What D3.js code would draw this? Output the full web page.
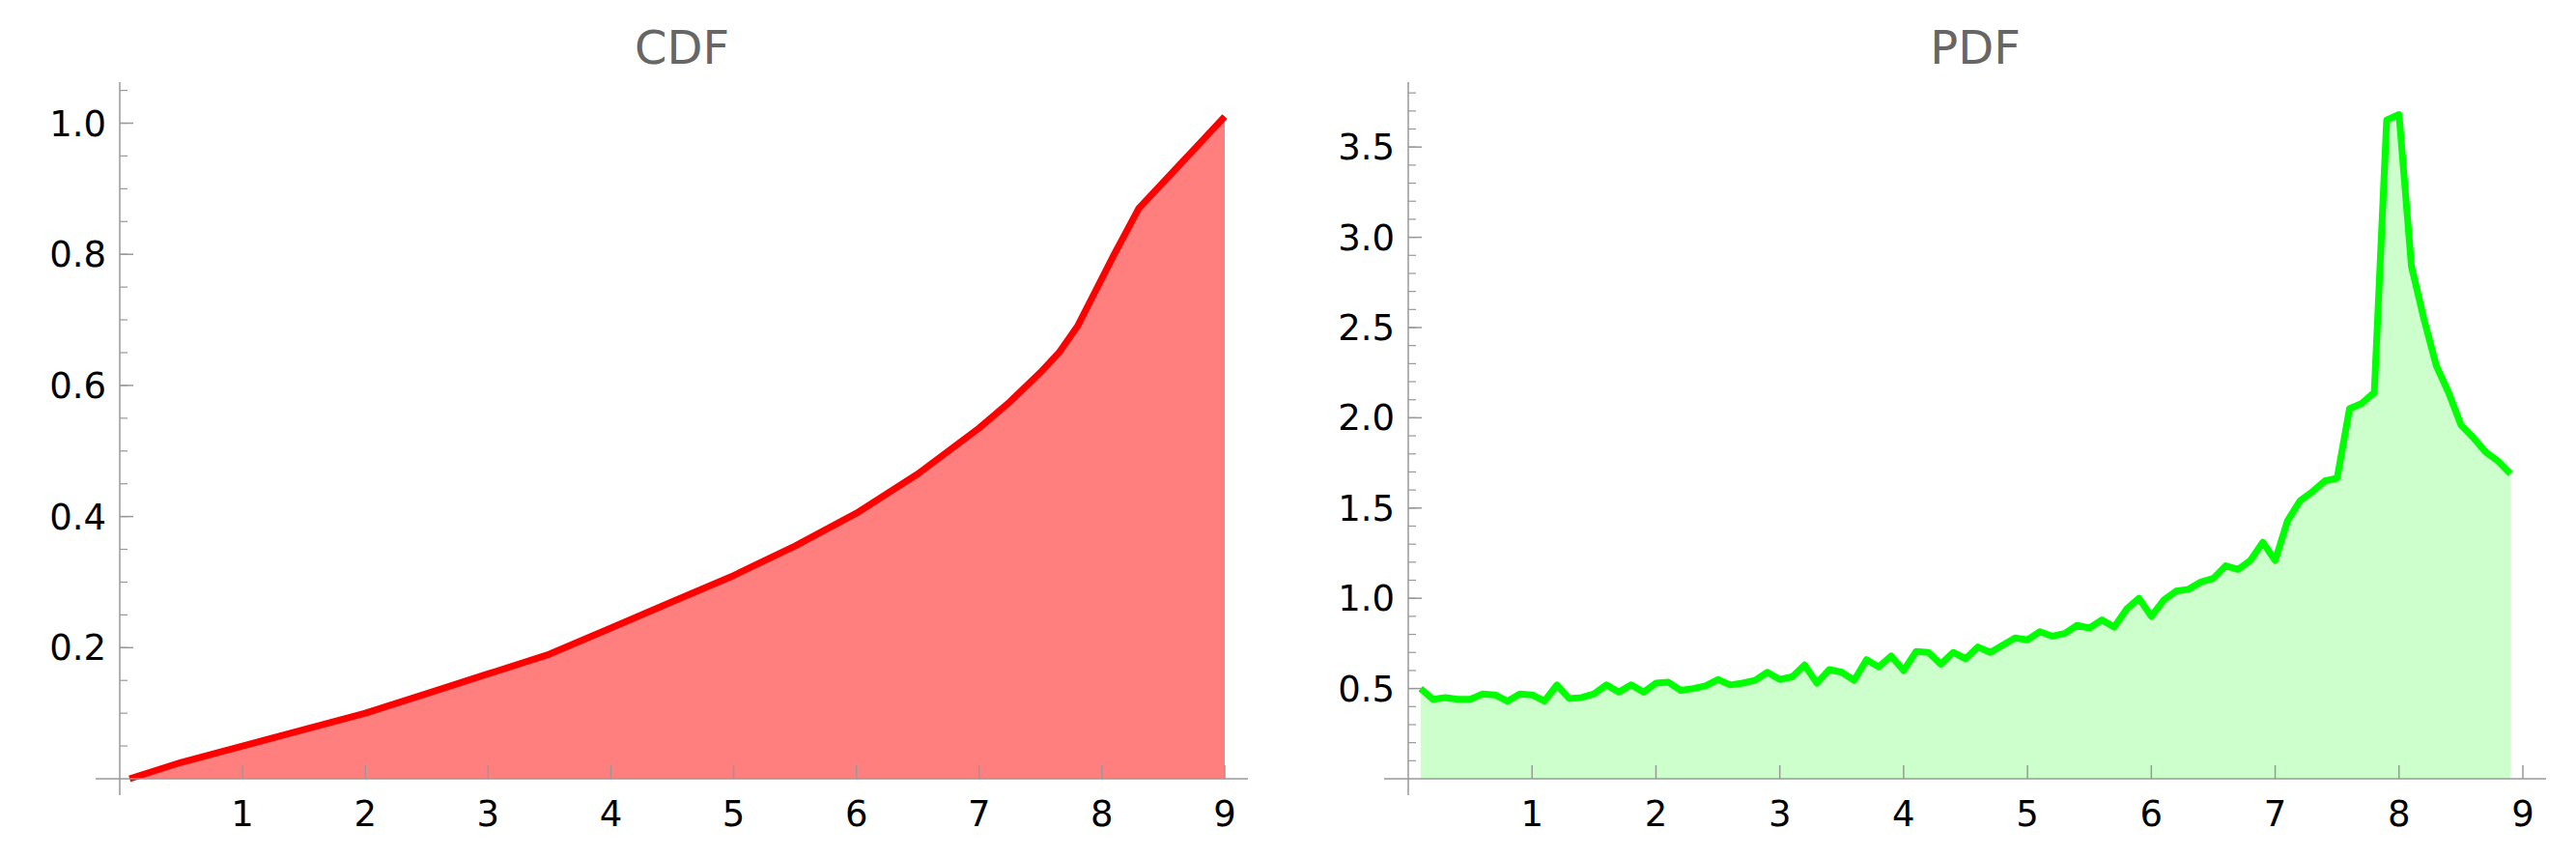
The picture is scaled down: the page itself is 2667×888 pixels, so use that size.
<!DOCTYPE html>
<html>
<head>
<meta charset="utf-8">
<script src="https://cdn.jsdelivr.net/npm/d3@7"></script>
<style>
  body { margin: 0; background: #fff; }
  text { font-family: "DejaVu Sans", sans-serif; }
</style>
</head>
<body>
<svg id="chart" width="2667" height="888"></svg>
<script>
// CDF curve
const cdfX = [0.08, 0.5, 1, 1.5, 2, 2.5, 3, 3.5, 4, 4.5, 5, 5.5, 6, 6.5, 7, 7.25, 7.5, 7.65, 7.8, 7.95, 8.1, 8.3, 8.6, 8.8, 9];
const cdfY = [0, 0.025, 0.05, 0.075, 0.10, 0.13, 0.16, 0.19, 0.23, 0.27, 0.31, 0.355, 0.405, 0.465, 0.535, 0.575, 0.62, 0.65, 0.69, 0.745, 0.80, 0.87, 0.93, 0.97, 1.01];

// PDF values, one per 0.1 step from 0.1 to 8.9
const pdfY = [
  0.50, 0.44, 0.45, 0.44, 0.44, 0.47, 0.465, 0.43, 0.47, 0.465,
  0.43, 0.52, 0.445, 0.45, 0.47, 0.52, 0.48, 0.52, 0.48, 0.53,
  0.535, 0.49, 0.50, 0.515, 0.55, 0.52, 0.53, 0.545, 0.59, 0.55,
  0.565, 0.63, 0.53, 0.605, 0.59, 0.545, 0.66, 0.62, 0.68, 0.60,
  0.705, 0.70, 0.635, 0.70, 0.665, 0.73, 0.70, 0.74, 0.78, 0.77,
  0.815, 0.79, 0.805, 0.85, 0.835, 0.88, 0.84, 0.94, 1.00, 0.90,
  0.99, 1.04, 1.05, 1.09, 1.11, 1.18, 1.16, 1.21, 1.31, 1.21,
  1.43, 1.54, 1.59, 1.65, 1.665, 2.05, 2.08, 2.14, 3.65, 3.68,
  2.84, 2.55, 2.29, 2.14, 1.96, 1.89, 1.81, 1.76, 1.69
];

const xTicks = [1, 2, 3, 4, 5, 6, 7, 8, 9];
const cdfTicks = [0.2, 0.4, 0.6, 0.8, 1.0];
const pdfTicks = [0.5, 1.0, 1.5, 2.0, 2.5, 3.0, 3.5];

const svg = d3.select("#chart");
const axisColor = "#999";

function panel(opts) {
  const g = svg.append("g");
  const x = d3.scaleLinear().domain([0, 9]).range([opts.left, opts.left + opts.xw]);
  const y = d3.scaleLinear().domain([0, opts.ymax]).range([806, 806 - opts.ymax * opts.yk]);

  const pts = opts.xs.map((d, i) => [d, opts.ys[i]]);
  g.append("path")
    .attr("d", d3.area().x(d => x(d[0])).y0(y(0)).y1(d => y(d[1]))(pts))
    .attr("fill", opts.fill);
  g.append("path")
    .attr("d", d3.line().x(d => x(d[0])).y(d => y(d[1]))(pts))
    .attr("fill", "none").attr("stroke", opts.stroke)
    .attr("stroke-width", 7).attr("stroke-linejoin", "round");

  // axes lines (cross slightly past each other)
  g.append("line").attr("x1", x(0)).attr("x2", x(0)).attr("y1", 85).attr("y2", 823)
    .attr("stroke", axisColor).attr("stroke-width", 1.5);
  g.append("line").attr("x1", x(0) - 25).attr("x2", x(9) + 24).attr("y1", 806).attr("y2", 806)
    .attr("stroke", axisColor).attr("stroke-width", 1.5);

  // x ticks
  xTicks.forEach(t => {
    g.append("line").attr("x1", x(t)).attr("x2", x(t)).attr("y1", 806).attr("y2", 792)
      .attr("stroke", axisColor).attr("stroke-width", 1.5);
    g.append("text").attr("x", x(t)).attr("y", 855).attr("text-anchor", "middle")
      .attr("font-size", 37).text(t);
  });

  // y minor ticks
  d3.range(opts.minor, opts.ytop + 1e-9, opts.minor).forEach(t => {
    g.append("line").attr("x1", x(0)).attr("x2", x(0) + 8).attr("y1", y(t)).attr("y2", y(t))
      .attr("stroke", axisColor).attr("stroke-width", 1.2);
  });
  opts.ticks.forEach(t => {
    g.append("line").attr("x1", x(0)).attr("x2", x(0) + 14).attr("y1", y(t)).attr("y2", y(t))
      .attr("stroke", axisColor).attr("stroke-width", 1.5);
    g.append("text").attr("x", x(0) - 14).attr("y", y(t) + 13).attr("text-anchor", "end")
      .attr("font-size", 37).text(t.toFixed(1));
  });

  g.append("text").attr("x", opts.left + opts.xw / 2 + 10).attr("y", 66).attr("text-anchor", "middle")
    .attr("font-size", 48).attr("fill", "#666").text(opts.title);
}

panel({
  title: "CDF", left: 124, xw: 1144, ymax: 1.0, yk: 678.5, ytop: 1.05, minor: 0.05,
  ticks: cdfTicks, xs: cdfX, ys: cdfY, fill: "#ff7f7f", stroke: "#ff0000"
});

panel({
  title: "PDF", left: 1458, xw: 1154, ymax: 3.5, yk: 186.8, ytop: 3.85, minor: 0.1,
  ticks: pdfTicks, xs: pdfY.map((d, i) => (i + 1) / 10), ys: pdfY, fill: "#ccffcc", stroke: "#00ff00"
});
</script>
</body>
</html>
